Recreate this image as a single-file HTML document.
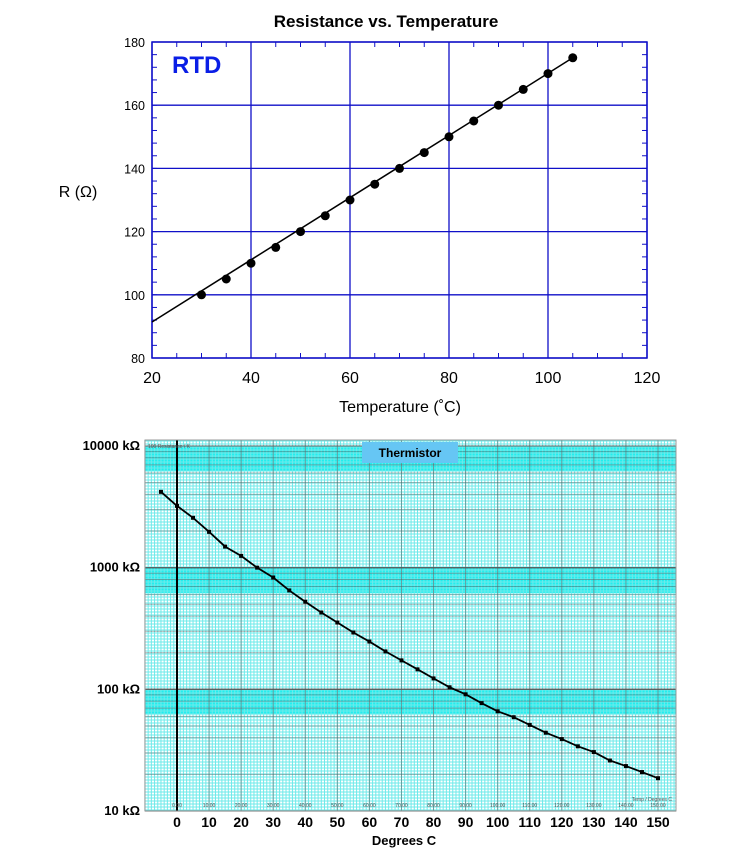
<!DOCTYPE html>
<html><head><meta charset="utf-8"><style>
html,body{margin:0;padding:0;background:#fff;}
svg{display:block;font-family:"Liberation Sans",sans-serif;}
</style></head><body>
<svg id="svg" width="742" height="864" xmlns="http://www.w3.org/2000/svg">
<text x="386" y="27" text-anchor="middle" font-size="17" font-weight="bold">Resistance vs. Temperature</text>
<text x="78" y="197" text-anchor="middle" font-size="16">R (Ω)</text>
<text x="400" y="412" text-anchor="middle" font-size="16">Temperature (˚C)</text>
<g id="topchart"></g>
<g id="botchart"></g>
<text x="404" y="845" text-anchor="middle" font-size="13" font-weight="bold">Degrees C</text>
</svg>
<script>
const rtdTemps=[30,35,40,45,50,55,60,65,70,75,80,85,90,95,100,105];
const rtdOhms=[100,105,110,115,120,125,130,135,140,145,150,155,160,165,170,175];
const rtdLineStart=[20,91.4];
const rtdXTicks=[20,40,60,80,100,120];
const rtdYTicks=[80,100,120,140,160,180];
const thTemps=[-5,0,5,10,15,20,25,30,35,40,45,50,55,60,65,70,75,80,85,90,95,100,105,110,115,120,125,130,135,140,145,150];
const thKOhm=[4200,3220,2570,1970,1490,1250,1000,830,650,525,428,354,293,247,205,173,146,123,104,91,77,66,59,51,44,39,34,30.5,26,23.4,20.9,18.6];
const thXTicks=[0,10,20,30,40,50,60,70,80,90,100,110,120,130,140,150];
const thYTicks=[10,100,1000,10000];
const thYLabels=["10 kΩ","100 kΩ","1000 kΩ","10000 kΩ"];

const NS="http://www.w3.org/2000/svg";
function mk(p,t,a){const e=document.createElementNS(NS,t);for(const k in a)e.setAttribute(k,a[k]);p.appendChild(e);return e;}
// ---------- RTD ----------
const topG=document.getElementById('topchart');
const L=152,R=647,T=42,B=358;
const sx=v=>L+(v-20)*(R-L)/100, sy=v=>B-(v-80)*(B-T)/100;
const blue="#1010c8";
for(const t of rtdXTicks){const g=mk(topG,'line',{x1:sx(t),x2:sx(t),y1:T,y2:B,stroke:blue,'stroke-width':1.3});


const tx=mk(topG,'text',{x:sx(t),y:383,'text-anchor':'middle','font-size':16});tx.textContent=t;

}
for(const v of rtdYTicks){const g=mk(topG,'line',{x1:L,x2:R,y1:sy(v),y2:sy(v),stroke:blue,'stroke-width':1.3});


const tx=mk(topG,'text',{x:145,y:sy(v)+5,'text-anchor':'end','font-size':12.5});tx.textContent=v;

}
for(let t=20;t<=120;t+=5){mk(topG,'line',{x1:sx(t),x2:sx(t),y1:T,y2:T+5,stroke:blue});mk(topG,'line',{x1:sx(t),x2:sx(t),y1:B,y2:B-5,stroke:blue});}
for(let v=80;v<=180;v+=4){mk(topG,'line',{x1:L,x2:L+5,y1:sy(v),y2:sy(v),stroke:blue});mk(topG,'line',{x1:R,x2:R-5,y1:sy(v),y2:sy(v),stroke:blue});}
const fr=mk(topG,'rect',{x:L,y:T,width:R-L,height:B-T,fill:'none',stroke:blue,'stroke-width':1.5});


const lab=mk(topG,'text',{x:172,y:73,'font-size':24,'font-weight':'bold',fill:'#0a1ee6'});lab.textContent='RTD';


const n=rtdTemps.length-1;
const ln=mk(topG,'line',{x1:sx(rtdLineStart[0]),y1:sy(rtdLineStart[1]),x2:sx(rtdTemps[n]),y2:sy(rtdOhms[n]),stroke:'#000','stroke-width':1.5});


rtdTemps.forEach((t,i)=>{const c=mk(topG,'circle',{cx:sx(t),cy:sy(rtdOhms[i]),r:4.5,fill:'#000'});

});
// ---------- Thermistor ----------
const botG=document.getElementById('botchart');
const L2=145,R2=676,T2=440,B2=811;
const x0=177,pxd=(658-177)/150;
const bx=t=>x0+t*pxd, by=v=>B2-(Math.log10(v)-1)*((B2-446)/3);
const bg=mk(botG,'rect',{x:L2,y:T2,width:R2-L2,height:B2-T2,fill:'#ffffff'});


for(const dv of [100,1000,10000]){const y1=Math.max(T2,by(dv)),y2=by(dv*0.62);const r=mk(botG,'rect',{x:L2,y:y1,width:R2-L2,height:y2-y1,fill:'#22eeee'});

}
for(let t=-10;t<=155;t+=1)mk(botG,'line',{x1:bx(t),x2:bx(t),y1:T2,y2:B2,stroke:'#6eeaea','stroke-width':1});
for(let y=T2+1;y<=B2;y+=3)mk(botG,'line',{x1:L2,x2:R2,y1:y,y2:y,stroke:'#6eeaea','stroke-width':1});
for(let d=1;d<=3;d++)for(let m=1;m<=10;m++){const v=m*Math.pow(10,d);const y=by(v);if(y<T2-1)continue;
mk(botG,'line',{x1:L2,x2:R2,y1:y,y2:y,stroke:'#555','stroke-width':m==1||m==10?1.3:1,opacity:m==1||m==10?0.7:0.45});}
for(let t=-10;t<=150;t+=10){const g=mk(botG,'line',{x1:bx(t),x2:bx(t),y1:T2,y2:B2,stroke:'#555','stroke-width':1,opacity:0.5});

}
const zl=mk(botG,'line',{x1:bx(0),x2:bx(0),y1:T2,y2:B2,stroke:'#000','stroke-width':2});


mk(botG,'rect',{x:L2,y:T2,width:R2-L2,height:B2-T2,fill:'none',stroke:'#999','stroke-width':1});
for(const t of thXTicks){const s=mk(botG,'text',{x:bx(t),y:807,'text-anchor':'middle','font-size':5,fill:'#555'});s.textContent=t.toFixed(2);}
const s1=mk(botG,'text',{x:148,y:448,'font-size':5,fill:'#555'});s1.textContent='100 Resistance / K';
const s2=mk(botG,'text',{x:672,y:801,'text-anchor':'end','font-size':5,fill:'#555'});s2.textContent='Temp / Degrees C';
thXTicks.forEach(t=>{const tx=mk(botG,'text',{x:bx(t),y:827,'text-anchor':'middle','font-size':14,'font-weight':'bold'});tx.textContent=t;

});
thYTicks.forEach((v,i)=>{const tx=mk(botG,'text',{x:140,y:by(v)+4,'text-anchor':'end','font-size':13,'font-weight':'bold'});tx.textContent=thYLabels[i];

});
const tb=mk(botG,'rect',{x:362,y:442,width:96,height:21,fill:'#66c6f4'});


const tt=mk(botG,'text',{x:410,y:457,'text-anchor':'middle','font-size':12,'font-weight':'bold'});tt.textContent='Thermistor';


const pl=mk(botG,'polyline',{points:thTemps.map((t,i)=>bx(t)+','+by(thKOhm[i])).join(' '),fill:'none',stroke:'#000','stroke-width':1.8});


thTemps.forEach((t,i)=>{const c=mk(botG,'rect',{x:bx(t)-2,y:by(thKOhm[i])-2,width:4,height:4,fill:'#000'});

});
</script>
</body></html>
